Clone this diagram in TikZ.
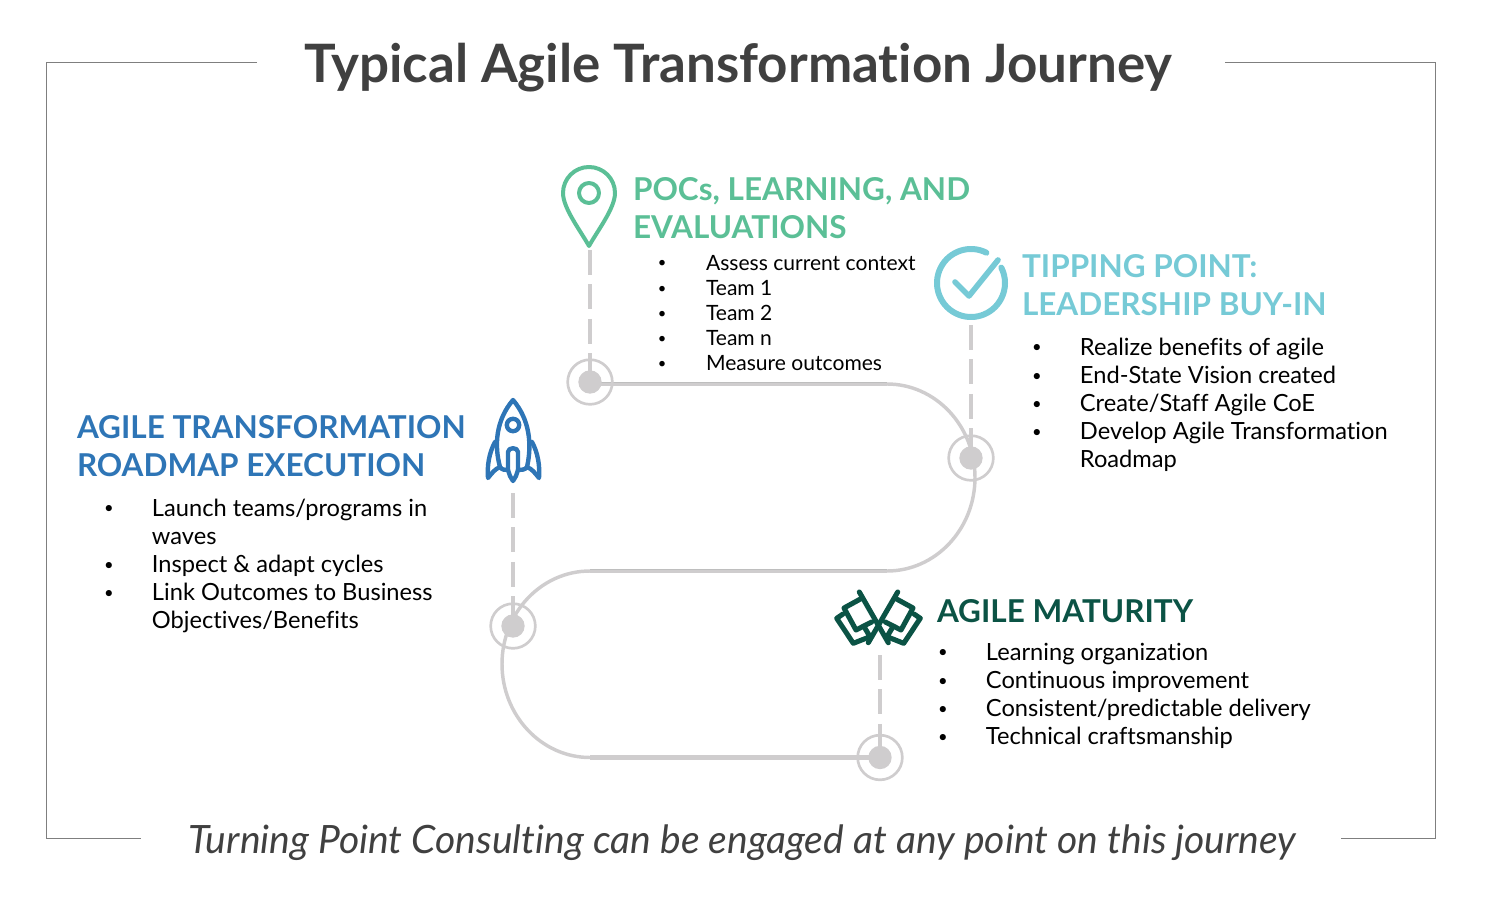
\documentclass[tikz,border=0pt]{standalone}
\usepackage{graphicx}
\usepackage{fontspec}
\setmainfont{Lato}[Ligatures=NoCommon]
\definecolor{ttl}{HTML}{404040}
\definecolor{frm}{HTML}{7F7F7F}
\definecolor{trk}{HTML}{CFCDCE}
\definecolor{trkdark}{HTML}{BEBEBE}
\definecolor{grn}{HTML}{5BBF96}
\definecolor{cyn}{HTML}{76CAD6}
\definecolor{blu}{HTML}{2E75B6}
\definecolor{dgr}{HTML}{0B5345}
\newcommand{\itemrow}[1]{\hbox{\makebox[\bulletgap][l]{\raisebox{1.6pt}{\scalebox{0.7}{\textbullet}}}#1}}
\newcommand{\controw}[1]{\hbox{\hskip\bulletgap #1}}
\newdimen\bulletgap
\newcommand{\rows}[3]{\bulletgap=#2\vtop{\baselineskip=#1\lineskiplimit=-100pt #3}}
\tikzset{
  x=0.75pt,y=-0.75pt,
  txt/.style={anchor=base west,inner sep=0pt,outer sep=0pt},
  head/.style={txt,font=\fontsize{23.62pt}{28.2pt}\selectfont\bfseries},
  bigbody/.style={txt,font=\fontsize{17.75pt}{21pt}\selectfont,text=black},
  smallbody/.style={txt,font=\fontsize{15.8pt}{19pt}\selectfont,text=black},
  frame/.style={draw=frm,line width=0.75pt},
  track/.style={draw=trk,line width=2.6pt},
  rail/.style={draw=trk,line width=3.6pt},
  railcore/.style={draw=trkdark,line width=1pt},
  stem/.style={draw=trk,line width=2.35pt,dash pattern=on 18.75pt off 7.1pt},
  halo/.style={circle,draw=trk,line width=2pt,fill=none,minimum size=33.5pt,inner sep=0pt},
  dot/.style={circle,fill=trk,minimum size=17.5pt,inner sep=0pt},
  icon/.style={line width=3pt,line cap=round,line join=round},
  rocketline/.style={icon,draw=blu,line width=3.3pt},
  flagline/.style={icon,draw=dgr,line width=3.8pt},
}
\begin{document}
\begin{tikzpicture}
\useasboundingbox (0,0) rectangle (1500,899);
% frame
\draw[frame] (257,62.5) -- (46,62.5) -- (46,838) -- (141,838);
\draw[frame] (1225,62.5) -- (1435,62.5) -- (1435,838) -- (1341,838);
\node[txt,text=ttl,font=\fontsize{39.7pt}{44pt}\selectfont\bfseries] (title) at (304,82.5) {Typical Agile Transformation Journey};
\node[txt,text=ttl,font=\fontsize{29.26pt}{33pt}\selectfont\itshape] (foot) at (188,853) {Turning Point Consulting can be engaged at any point on this journey};
% stations
\coordinate (c1) at (590,382);
\coordinate (c2) at (971,458);
\coordinate (c3) at (513,626);
\coordinate (c4) at (880,757.5);
\coordinate (a1) at (887,384);
\coordinate (a2) at (887,571);
\coordinate (a3) at (590,571);
\coordinate (a4) at (590,757.5);
% track
\draw[track] (a1) .. controls (935.6,384) and (975,425.9) .. (975,477.5) .. controls (975,529.1) and (935.6,571) .. (a2);
\draw[track] (a3) .. controls (541.4,571) and (502,612.6) .. (502,664) .. controls (502,715.4) and (541.4,757.5) .. (a4);
\draw[rail] (c1 |- a1) -- (a1);
\draw[rail] (a2) -- (a3);
\draw[rail] (a4) -- (c4);
\draw[railcore] ([yshift=0.9pt]c1 |- a1) -- ([yshift=0.9pt]a1);
\draw[railcore] ([yshift=0.9pt]a2) -- ([yshift=0.9pt]a3);
% stems
\coordinate (s1) at (590,250);
\coordinate (s2) at (971,325);
\coordinate (s3) at (513,493);
\coordinate (s4) at (880,655);
\draw[stem] (s1) -- (c1);
\draw[stem] (s2) -- (c2);
\draw[stem] (s3) -- (c3);
\draw[stem] (s4) -- (c4);
\foreach \n in {1,2,3,4}{
  \node[halo] (h\n) at (c\n) {};
  \node[dot] (d\n) at (c\n) {};
}
% pin
\draw[icon,draw=grn] (589,246) .. controls (580,230) and (563,208) .. (563,193) arc[start angle=180,end angle=360,radius=26] .. controls (615,208) and (598,230) .. (589,246) -- cycle;
\draw[icon,draw=grn] (589,193) circle[radius=10];
% check
\draw[draw=cyn,line width=4.5pt,line cap=round] (971,283) ++(-63:34) arc[start angle=-63,end angle=-387,radius=34];
\draw[draw=cyn,icon,line width=4.2pt] (955,282) -- (969,296) -- (998,260);
% rocket
\draw[rocketline] (500,467) .. controls (494,445) and (496,420) .. (513,400) .. controls (530,420) and (532,445) .. (527,467) .. controls (525,470) and (521,470) .. (518,470) -- (518,452) .. controls (518,447) and (508,447) .. (508,452) -- (508,470) .. controls (505,470) and (502,470) .. (500,467) -- cycle;
\draw[rocketline] (508,470) -- (510,476) -- (513,481) -- (516,476) -- (518,470);
\draw[rocketline] (513,425) circle[radius=6.2];
\draw[rocketline] (495,442) .. controls (489,453) and (487,466) .. (488,478) .. controls (492,473) and (495,469) .. (500,467);
\draw[rocketline] (532,442) .. controls (538,453) and (540,466) .. (539,478) .. controls (535,473) and (532,469) .. (527,467);
% flags
\draw[flagline] (859.3,592) -- (888.3,642.7);
\draw[flagline] (897.7,592) -- (868.3,642.7);
\draw[flagline] (861.7,598.3) -- (844,608) -- (856,630) -- (871.7,622);
\draw[flagline] (895.3,598.3) -- (913,608) -- (901,630) -- (885.3,622);
\draw[flagline] (843,614) -- (836.7,618.3) -- (853.3,643.3) -- (870,636.7) -- (865,628.3);
\draw[flagline] (914,614) -- (920.3,618.3) -- (903.7,643.3) -- (887,636.7) -- (892,628.3);
% headings and lists
\node[head,text=grn] (h-poc) at (633,200.5) {\rows{28.3pt}{0pt}{\hbox{POCs, LEARNING, AND}\hbox{EVALUATIONS}}};
\node[smallbody] (l-poc) at (657.8,270) {\rows{18.9pt}{36.15pt}{\itemrow{Assess current context}\itemrow{Team 1}\itemrow{Team 2}\itemrow{Team n}\itemrow{Measure outcomes}}};
\node[head,text=cyn] (h-tip) at (1022,277.5) {\rows{28.3pt}{0pt}{\hbox{TIPPING POINT:}\hbox{LEADERSHIP BUY-IN}}};
\node[bigbody] (l-tip) at (1032.1,355) {\rows{21.15pt}{35.9pt}{\itemrow{Realize benefits of agile}\itemrow{End-State Vision created}\itemrow{Create/Staff Agile CoE}\itemrow{Develop Agile Transformation}\controw{Roadmap}}};
\node[head,text=blu] (h-rm) at (77,438.5) {\rows{28.3pt}{0pt}{\hbox{AGILE TRANSFORMATION}\hbox{ROADMAP EXECUTION}}};
\node[bigbody] (l-rm) at (104.1,516) {\rows{21.15pt}{35.9pt}{\itemrow{Launch teams/programs in}\controw{waves}\itemrow{Inspect \& adapt cycles}\itemrow{Link Outcomes to Business}\controw{Objectives/Benefits}}};
\node[head,text=dgr] (h-am) at (937,622) {AGILE MATURITY};
\node[bigbody] (l-am) at (938.1,660) {\rows{21.15pt}{35.9pt}{\itemrow{Learning organization}\itemrow{Continuous improvement}\itemrow{Consistent/predictable delivery}\itemrow{Technical craftsmanship}}};
\end{tikzpicture}
\end{document}
